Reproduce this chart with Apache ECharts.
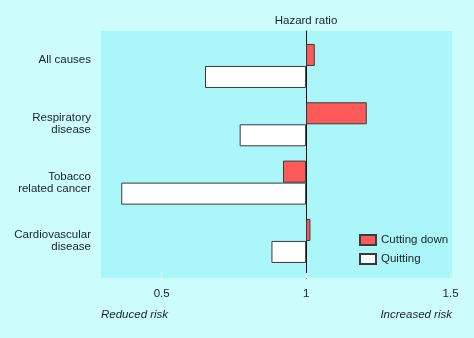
<!DOCTYPE html>
<html>
<head>
<meta charset="utf-8">
<script src="https://cdn.jsdelivr.net/npm/echarts@6/dist/echarts.min.js"></script>
<style>
html,body{margin:0;padding:0;background:#ccfcfc;}
#c{width:474px;height:338px;}
</style>
</head>
<body>
<div id="c"></div>
<script>
// Data
const categories = ['All causes\n ', 'Respiratory\ndisease', 'Tobacco\nrelated cancer', 'Cardiovascular\ndisease'];
const cuttingDown = [1.03, 1.21, 0.92, 1.015];
const quitting = [0.65, 0.77, 0.36, 0.88];
const tickValues = [0.5, 1, 1.5];
const baseline = 1;
const axisMin = 0.29;
const axisMax = 1.505;

const FONT = '"Liberation Sans Narrow", "Liberation Sans", Arial, sans-serif';
const FS = 11.5;
const TXT = '#18222c';

const chart = echarts.init(document.getElementById('c'), null, {renderer: 'canvas'});
const off = v => +(v - baseline).toFixed(4);

chart.setOption({
  backgroundColor: '#ccfcfc',
  animation: false,
  textStyle: {fontFamily: FONT},
  grid: [
    {left: 101, top: 31, width: 351, height: 247, show: true, backgroundColor: '#aaf6f9', borderWidth: 0, containLabel: false},
    {left: 101, top: 36.8, width: 351, height: 233.3, show: false, containLabel: false}
  ],
  xAxis: [
    {
      type: 'value', gridIndex: 0, min: off(axisMin), max: off(axisMax),
      axisLine: {show: false},
      splitLine: {show: false},
      axisTick: {show: true, inside: true, length: 5, lineStyle: {color: '#ffffff', width: 1}, customValues: tickValues.map(off)},
      axisLabel: {show: true, margin: 10, fontSize: FS, color: TXT, fontFamily: FONT,
        customValues: tickValues.map(off),
        formatter: v => String(+(v + baseline).toFixed(2))}
    },
    {
      type: 'value', gridIndex: 1, min: off(axisMin), max: off(axisMax), show: false
    }
  ],
  yAxis: [
    {
      type: 'value', gridIndex: 0, min: 0, max: 1,
      axisLine: {show: true, onZero: true, lineStyle: {color: '#111111', width: 1}},
      axisTick: {show: false}, axisLabel: {show: false}, splitLine: {show: false}
    },
    {
      type: 'category', gridIndex: 1, data: categories, inverse: true,
      axisLine: {show: false}, axisTick: {show: false}, splitLine: {show: false},
      axisLabel: {margin: 10, fontSize: FS, lineHeight: 12, color: TXT, fontFamily: FONT, align: 'right'}
    }
  ],
  legend: {
    orient: 'vertical', left: 354, top: 229, itemWidth: 16, itemHeight: 10, itemGap: 7,
    icon: 'rect',
    textStyle: {fontSize: FS, color: TXT, fontFamily: FONT},
    data: ['Cutting down', 'Quitting']
  },
  series: [
    {
      name: 'Cutting down', type: 'bar', xAxisIndex: 1, yAxisIndex: 1,
      data: cuttingDown.map(off), barWidth: 22, barGap: '0%',
      itemStyle: {color: '#ff5a5a', borderColor: '#3a3a3a', borderWidth: 1}
    },
    {
      name: 'Quitting', type: 'bar', xAxisIndex: 1, yAxisIndex: 1,
      data: quitting.map(off), barWidth: 22, barGap: '0%',
      itemStyle: {color: '#ffffff', borderColor: '#3a3a3a', borderWidth: 1}
    }
  ],
  graphic: [
    {type: 'text', x: 306, y: 21, style: {text: 'Hazard ratio', font: FS + 'px ' + FONT, fill: TXT, textAlign: 'center', textVerticalAlign: 'middle'}},
    {type: 'text', x: 101, y: 315, style: {text: 'Reduced risk', font: 'italic ' + FS + 'px ' + FONT, fill: TXT, textAlign: 'left', textVerticalAlign: 'middle'}},
    {type: 'text', x: 452, y: 315, style: {text: 'Increased risk', font: 'italic ' + FS + 'px ' + FONT, fill: TXT, textAlign: 'right', textVerticalAlign: 'middle'}}
  ]
});
</script>
</body>
</html>
